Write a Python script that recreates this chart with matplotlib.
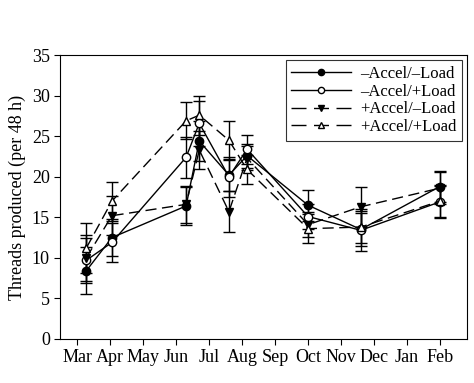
import matplotlib.pyplot as plt
import numpy as np

plt.rcParams['font.family'] = ['Liberation Serif', 'DejaVu Serif']

# sampling dates, in months since the start of March
sample_x = [0.27, 1.05, 3.3, 3.7, 4.6, 5.15, 7.0, 8.6, 11.0]
month_labels = ['Mar', 'Apr', 'May', 'Jun', 'Jul', 'Aug', 'Sep',
                'Oct', 'Nov', 'Dec', 'Jan', 'Feb']

labels = ['\u2013Accel/\u2013Load', '\u2013Accel/+Load',
          '+Accel/\u2013Load', '+Accel/+Load']

mm = [8.4, 12.5, 16.4, 24.4, 20.2, 22.6, 16.5, 13.5, 18.8]
mp = [9.7, 11.9, 22.4, 26.6, 20.0, 23.4, 15.1, 13.4, 16.9]
pm = [10.0, 15.2, 16.6, 23.3, 15.7, 22.3, 14.1, 16.3, 18.6]
pp = [11.2, 17.0, 26.9, 27.6, 24.5, 20.9, 13.6, 13.8, 17.0]

mm_err = [2.9, 2.3, 2.4, 2.5, 2.0, 1.5, 1.9, 2.0, 1.9]
mp_err = [2.8, 2.4, 2.5, 2.8, 2.5, 1.8, 1.5, 2.6, 2.0]
pm_err = [2.8, 2.4, 2.3, 2.3, 2.5, 1.5, 1.5, 2.5, 2.0]
pp_err = [3.1, 2.4, 2.3, 2.4, 2.4, 1.8, 1.8, 2.0, 2.0]

fig = plt.figure(figsize=(4.74, 3.83), dpi=100)
ax = fig.add_axes([0.127, 0.115, 0.858, 0.741])

dash = (0, (8, 4))
styles = [
    dict(marker='o', mfc='black', ls='-'),
    dict(marker='o', mfc='white', ls='-'),
    dict(marker='v', mfc='black', ls=dash),
    dict(marker='^', mfc='white', ls=dash),
]
series = [mm, mp, pm, pp]
errs = [mm_err, mp_err, pm_err, pp_err]

for y, e, st, lab in zip(series, errs, styles, labels):
    ax.errorbar(sample_x, y, yerr=e, color='black', lw=1.0, ls=st['ls'],
                marker=st['marker'], mfc=st['mfc'], mec='black', ms=6,
                capsize=4, elinewidth=1.0, capthick=1.0, label=lab)

ax.set_xlim(-0.52, 11.82)
ax.set_ylim(0, 35)
ax.set_xticks(range(12))
ax.set_xticklabels(month_labels)
ax.set_yticks(range(0, 36, 5))
ax.tick_params(direction='out', length=4, labelsize=13, top=False, right=False)
ax.set_ylabel('Threads produced (per 48 h)', fontsize=13)

handles, labs = ax.get_legend_handles_labels()
handles = [h[0] for h in handles]
leg = ax.legend(handles, labs, loc='upper right', fontsize=12, frameon=True,
                fancybox=False, edgecolor='black', handlelength=3.6,
                markerscale=0.75, borderpad=0.35, labelspacing=0.1,
                handletextpad=0.5, borderaxespad=0,
                bbox_to_anchor=(0.988, 0.982))
leg.get_frame().set_linewidth(0.8)
# one long dash either side of the marker in the legend
for ln in leg.get_lines()[2:]:
    ln.set_dashes((10.8, 5.4))

fig.savefig('out.png', dpi=100)
